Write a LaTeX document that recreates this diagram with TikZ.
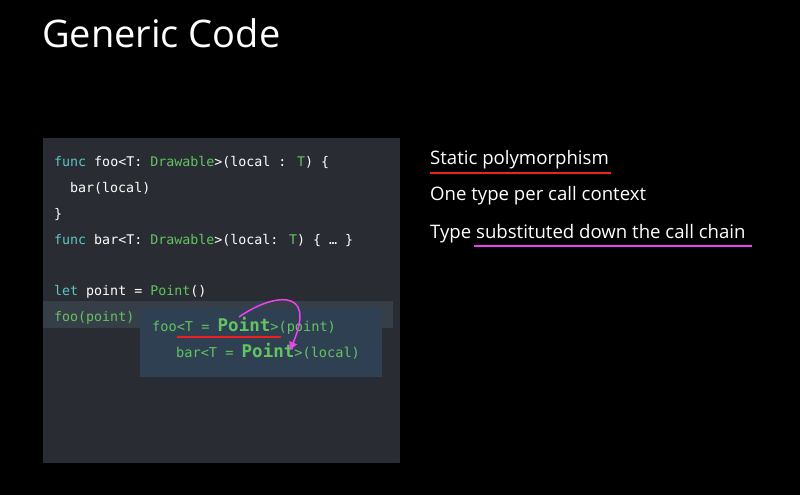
\documentclass[tikz,border=0pt]{standalone}
\usepackage{fontspec}
\setmainfont{Open Sans}
\newfontfamily\codefont{DejaVu Sans Mono}
\usetikzlibrary{arrows.meta}
\definecolor{kw}{HTML}{5CC6C6}
\definecolor{ty}{HTML}{62C462}
\definecolor{panel}{HTML}{2A2C33}
\definecolor{hl}{HTML}{363E48}
\definecolor{pop}{HTML}{2F4052}
\definecolor{mag}{HTML}{F040F0}
\definecolor{redl}{HTML}{F02020}
\begin{document}
\begin{tikzpicture}[x=1pt,y=-1pt,
  code/.style={anchor=base west,inner sep=0,font=\codefont\fontsize{13.3}{13}\selectfont,text=white},
  pcode/.style={anchor=base west,inner sep=0,font=\codefont\fontsize{13.6}{13}\selectfont,text=ty},
  bul/.style={anchor=base west,inner sep=0,font=\fontsize{18.6}{18}\selectfont,text=white}]
\useasboundingbox[fill=black] (0,0) rectangle (800,495);
\node[anchor=base west,inner sep=0,text=white,font=\fontsize{38}{38}\selectfont] (title) at (42,48) {Generic Code};
\fill[panel] (43,138) rectangle (400,463);
\fill[hl] (43,301) rectangle (393,328);
\node[code] (l1) at (54,166) {\textcolor{kw}{func} foo<T: \textcolor{ty}{Drawable}>(local : \textcolor{ty}{T}) \{};
\node[code] (l2) at (70,192) {bar(local)};
\node[code] (l3) at (54,218) {\}};
\node[code] (l4) at (54,244) {\textcolor{kw}{func} bar<T: \textcolor{ty}{Drawable}>(local: \textcolor{ty}{T}) \{ … \}};
\node[code] (l5) at (54,295) {\textcolor{kw}{let} point = \textcolor{ty}{Point}()};
\node[code,text=ty] (l6) at (54,321) {foo(point)};
\fill[pop] (140,308) rectangle (382,377);
\node[pcode] (p1) at (152,331) {foo<T = {\fontsize{17.5}{17}\selectfont\bfseries Point}>(point)};
\node[pcode] (p2) at (176,357) {bar<T = {\fontsize{17.5}{17}\selectfont\bfseries Point}>(local)};
\coordinate (u1) at (177,337); \coordinate (u2) at (281,337);
\draw[redl,line width=1.5pt] (u1) -- (u2);
\coordinate (a1) at (239,317); \coordinate (a2) at (290,350);
\draw[mag,line width=1.5pt,-{Triangle[length=8pt,width=8pt]}] (a1) .. controls (270,295) and (318,285) .. (a2);
\node[bul] (b1) at (430,164) {Static polymorphism};
\node[bul] (b2) at (430,200) {One type per call context};
\node[bul] (b3) at (430,238) {Type substituted down the call chain};
\draw[redl,line width=2.5pt] (430,173) -- (611,173);
\draw[mag,line width=2.5pt] (474,246) -- (752,246);
\end{tikzpicture}
\end{document}
